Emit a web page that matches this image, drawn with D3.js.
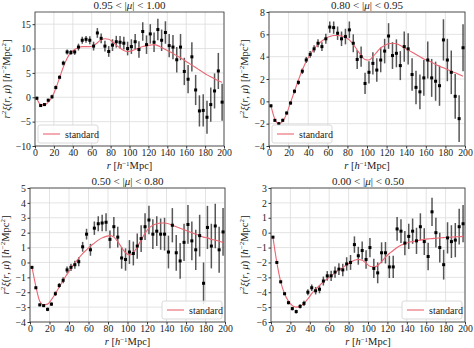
<!DOCTYPE html>
<html><head><meta charset="utf-8">
<script src="https://cdn.jsdelivr.net/npm/d3@7"></script>
<style>body{margin:0;background:#fff}svg{display:block}text{font-family:"Liberation Serif","DejaVu Serif",serif;fill:#222}</style>
</head><body><svg id="c" width="474" height="348"></svg>
<script>
const rValues = d3.range(2, 200, 4);
const titles = ["0.95 < |μ| < 1.00", "0.80 < |μ| < 0.95", "0.50 < |μ| < 0.80", "0.00 < |μ| < 0.50"];
const xTicks = [0,20,40,60,80,100,120,140,160,180,200];
const yTicks1 = [-10,-5,0,5,10,15];
const yTicks2 = [-4,-2,0,2,4,6,8];
const yTicks3 = [-4,-3,-2,-1,0,1,2,3,4,5];
const yTicks4 = [-6,-5,-4,-3,-2,-1,0,1,2,3];

const data1 = [-0.2,-1.7,-1.5,-0.6,0.1,2.0,4.1,7.0,9.3,9.2,9.3,10.3,11.7,11.9,11.7,10.5,13.2,12.1,10.5,9.4,10.7,11.4,11.3,11.1,10.0,10.4,11.4,9.8,13.5,10.8,13.0,11.3,13.9,11.7,13.3,10.6,10.3,7.7,10.3,5.3,3.7,8.3,1.5,-2.8,-2.7,-4.1,-1.5,1.3,5.4,-1.0];
const err1 = [0.3,0.3,0.3,0.3,0.4,0.4,0.4,0.5,0.5,0.5,0.6,0.7,0.7,0.7,0.8,0.9,1.0,1.0,1.1,1.1,1.2,1.2,1.3,1.3,1.4,1.5,1.6,1.7,1.9,1.9,2.0,2.0,2.2,2.2,2.3,2.4,2.5,2.6,2.7,2.8,2.9,3.0,3.1,3.2,3.3,3.4,3.5,3.6,3.7,3.8];
const model1 = [-0.3,-1.5,-1.6,-1.0,0.0,1.8,4.0,6.2,8.0,9.2,9.8,10.2,10.4,10.4,10.4,10.6,11.2,11.8,12.0,11.9,11.4,10.7,10.1,9.6,9.4,9.5,9.8,10.1,10.4,10.6,10.7,10.8,10.6,10.2,9.8,9.4,9.0,8.5,8.1,7.6,7.1,6.6,6.1,5.6,5.1,4.6,4.2,3.8,3.4,3.1];

const data2 = [-0.4,-1.7,-2.0,-1.7,-1.05,-0.15,0.9,1.7,2.7,3.7,4.2,4.7,5.2,4.9,5.6,6.65,6.6,6.1,5.6,5.8,6.4,5.2,3.75,4.0,1.6,2.6,3.4,2.8,3.7,4.5,5.85,4.1,4.3,3.2,4.9,4.7,2.4,1.25,0.85,2.1,3.7,2.1,1.8,1.4,5.5,3.7,2.6,0.45,-1.55,4.8];
const err2 = [0.12,0.12,0.12,0.15,0.15,0.17,0.2,0.22,0.25,0.27,0.3,0.32,0.35,0.4,0.45,0.5,0.55,0.6,0.65,0.7,0.75,0.8,0.85,0.9,0.95,1.0,1.0,1.05,1.1,1.1,1.15,1.2,1.25,1.3,1.35,1.4,1.45,1.5,1.55,1.6,1.65,1.7,1.75,1.8,1.85,1.9,1.95,2.0,2.1,2.1];
const model2 = [-0.4,-1.6,-2.0,-1.8,-1.1,-0.1,0.9,1.9,2.8,3.6,4.2,4.7,5.1,5.4,5.65,5.8,5.9,5.9,5.85,5.7,5.5,5.1,4.6,4.1,3.75,3.7,4.0,4.4,4.8,5.0,5.15,5.2,5.15,5.0,4.8,4.6,4.4,4.2,4.0,3.8,3.65,3.5,3.3,3.15,3.0,2.85,2.7,2.55,2.4,2.25];

const data3 = [-0.33,-1.7,-2.85,-2.9,-3.15,-2.8,-2.1,-1.55,-1.2,-0.5,-0.33,-0.15,0.05,1.05,1.9,0.85,2.3,2.6,2.65,2.7,1.55,2.4,1.7,0.3,0.2,0.7,0.6,1.1,1.6,2.4,2.85,1.9,2.1,1.9,1.9,0.7,2.5,0.65,0.1,1.35,2.55,1.45,0.85,1.8,-1.4,2.35,1.1,2.45,0.85,2.05];
const err3 = [0.08,0.08,0.1,0.1,0.12,0.12,0.15,0.17,0.2,0.22,0.25,0.27,0.3,0.33,0.36,0.4,0.45,0.5,0.55,0.6,0.6,0.65,0.7,0.72,0.75,0.8,0.8,0.85,0.9,0.9,0.95,1.0,1.0,1.05,1.1,1.1,1.15,1.2,1.2,1.25,1.3,1.3,1.35,1.4,1.4,1.45,1.5,1.5,1.55,1.6];
const model3 = [-0.3,-1.6,-2.6,-2.85,-2.8,-2.5,-2.1,-1.65,-1.2,-0.8,-0.4,-0.05,0.3,0.6,0.85,1.1,1.3,1.5,1.65,1.75,1.8,1.7,1.4,1.0,0.65,0.5,0.65,1.05,1.5,1.95,2.3,2.5,2.6,2.65,2.65,2.6,2.5,2.4,2.3,2.2,2.1,2.0,1.9,1.8,1.7,1.65,1.55,1.5,1.42,1.35];

const data4 = [-0.3,-2.0,-3.3,-4.1,-4.7,-5.1,-5.3,-4.95,-4.75,-4.0,-3.7,-3.9,-3.8,-3.25,-2.9,-2.9,-2.65,-2.45,-2.5,-2.1,-2.0,-0.8,-1.55,-1.2,-1.8,-1.0,-2.4,-2.7,-1.35,-1.35,-2.3,-2.3,0.25,0.1,-0.7,-0.25,0.1,-0.55,0.4,-0.6,-1.6,1.4,0.0,-1.0,-2.15,-0.35,-0.6,-0.5,0.4,0.6];
const err4 = [0.08,0.1,0.1,0.1,0.12,0.12,0.13,0.15,0.17,0.2,0.22,0.25,0.27,0.3,0.32,0.35,0.38,0.4,0.42,0.45,0.5,0.55,0.6,0.6,0.62,0.65,0.65,0.7,0.7,0.72,0.75,0.75,0.8,0.8,0.82,0.85,0.85,0.88,0.9,0.9,0.92,0.95,1.0,1.0,1.0,1.05,1.1,1.15,1.2,1.25];
const model4 = [-0.3,-2.0,-3.3,-4.1,-4.6,-4.9,-5.0,-4.95,-4.75,-4.45,-4.1,-3.8,-3.55,-3.3,-3.1,-2.9,-2.7,-2.5,-2.35,-2.15,-2.0,-1.85,-1.8,-1.85,-2.05,-2.25,-2.3,-2.2,-1.95,-1.65,-1.4,-1.2,-1.0,-0.85,-0.75,-0.65,-0.6,-0.55,-0.5,-0.45,-0.42,-0.4,-0.37,-0.35,-0.33,-0.31,-0.3,-0.28,-0.27,-0.25];

const panels = [
  {title:titles[0], data:data1, err:err1, model:model1, yDom:[-10,17.5], yTicks:yTicks1, box:[35,224,12,146], ylx:10, legend:"left"},
  {title:titles[1], data:data2, err:err2, model:model2, yDom:[-4,8], yTicks:yTicks2, box:[269,465,12,146], ylx:248, legend:"left"},
  {title:titles[2], data:data3, err:err3, model:model3, yDom:[-4,5], yTicks:yTicks3, box:[30,225,188,322], ylx:9, legend:"right"},
  {title:titles[3], data:data4, err:err4, model:model4, yDom:[-6,3], yTicks:yTicks4, box:[271,465,188,322], ylx:248, legend:"right"}
];

const svg = d3.select("#c");
const red = "#ea6672";

panels.forEach(p => {
  const [l, r, t, b] = p.box;
  const x = d3.scaleLinear().domain([0,200]).range([l, r]);
  const y = d3.scaleLinear().domain(p.yDom).range([b, t]);
  const g = svg.append("g");
  g.append("g").selectAll("line.gx").data(xTicks).join("line")
    .attr("x1", d=>x(d)).attr("x2", d=>x(d)).attr("y1", t).attr("y2", b)
    .attr("stroke", "#dcdcdc").attr("stroke-width", 0.8);
  g.append("g").selectAll("line.gy").data(p.yTicks).join("line")
    .attr("x1", l).attr("x2", r).attr("y1", d=>y(d)).attr("y2", d=>y(d))
    .attr("stroke", "#dcdcdc").attr("stroke-width", 0.8);
  const xa = g.append("g").attr("transform", `translate(0,${b})`)
    .call(d3.axisBottom(x).tickValues(xTicks).tickSize(2.5).tickPadding(1).tickFormat(d3.format("d")));
  const ya = g.append("g").attr("transform", `translate(${l},0)`)
    .call(d3.axisLeft(y).tickValues(p.yTicks).tickSize(2.5).tickPadding(1.5).tickFormat(d => d < 0 ? "−" + Math.abs(d) : d));
  [xa, ya].forEach(a => {
    a.select(".domain").remove();
    a.selectAll("line").attr("stroke", "#333");
    a.selectAll("text").attr("font-size", 9.8).attr("font-family", '"Liberation Serif", serif').attr("fill", "#222");
  });
  g.append("rect").attr("x", l).attr("y", t).attr("width", r-l).attr("height", b-t)
    .attr("fill", "none").attr("stroke", "#333").attr("stroke-width", 0.8);
  const cid = "clip" + l + t;
  svg.append("clipPath").attr("id", cid).append("rect").attr("x", l).attr("y", t).attr("width", r-l).attr("height", b-t);
  const pg = g.append("g").attr("clip-path", `url(#${cid})`);
  pg.selectAll("line.eb").data(rValues).join("line")
    .attr("x1", d=>x(d)).attr("x2", d=>x(d))
    .attr("y1", (d,i)=>y(p.data[i]-p.err[i])).attr("y2", (d,i)=>y(p.data[i]+p.err[i]))
    .attr("stroke", "#3a3a3a").attr("stroke-width", 1.5).attr("opacity", 0.85);
  pg.append("path").datum(rValues)
    .attr("d", d3.line().x(d=>x(d)).y((d,i)=>y(p.model[i])).curve(d3.curveMonotoneX))
    .attr("fill", "none").attr("stroke", red).attr("stroke-width", 1.1);
  pg.selectAll("rect.pt").data(rValues).join("rect")
    .attr("x", d=>x(d)-1.5).attr("y", (d,i)=>y(p.data[i])-1.5).attr("width", 3).attr("height", 3)
    .attr("fill", "#000");
  const title = g.append("text").attr("x", (l+r)/2).attr("y", t-3).attr("text-anchor", "middle").attr("font-size", 11);
  const parts = p.title.split("μ");
  title.append("tspan").text(parts[0]);
  title.append("tspan").attr("font-style", "italic").text("μ");
  title.append("tspan").text(parts[1]);
  const xl = g.append("text").attr("x", (l+r)/2).attr("y", b+23).attr("text-anchor", "middle").attr("font-size", 10.5);
  xl.append("tspan").attr("font-style", "italic").text("r");
  xl.append("tspan").text(" [");
  xl.append("tspan").attr("font-style", "italic").text("h");
  xl.append("tspan").attr("font-size", 7).attr("dy", -3.5).text("−1");
  xl.append("tspan").attr("dy", 3.5).text("Mpc]");
  const yl = g.append("text").attr("transform", `translate(${p.ylx},${(t+b)/2}) rotate(-90)`)
    .attr("text-anchor", "middle").attr("font-size", 10.5);
  yl.append("tspan").attr("font-style", "italic").text("r");
  yl.append("tspan").attr("font-size", 7).attr("dy", -4).text("2");
  yl.append("tspan").attr("dy", 4).attr("font-style", "italic").text("ξ");
  yl.append("tspan").text("(");
  yl.append("tspan").attr("font-style", "italic").text("r");
  yl.append("tspan").text(", ");
  yl.append("tspan").attr("font-style", "italic").text("μ");
  yl.append("tspan").text(") [");
  yl.append("tspan").attr("font-style", "italic").text("h");
  yl.append("tspan").attr("font-size", 7).attr("dy", -4).text("−2");
  yl.append("tspan").attr("dy", 4).text("Mpc");
  yl.append("tspan").attr("font-size", 7).attr("dy", -4).text("2");
  yl.append("tspan").attr("dy", 4).text("]");
  const lw = 60, lh = 18;
  const lx = p.legend === "left" ? l + 3 : r - lw - 3;
  const ly = b - lh - 3;
  const lg = g.append("g");
  lg.append("rect").attr("x", lx).attr("y", ly).attr("width", lw).attr("height", lh).attr("rx", 2)
    .attr("fill", "#fff").attr("fill-opacity", 0.85).attr("stroke", "#d0d0d0").attr("stroke-width", 0.8);
  lg.append("line").attr("x1", lx+5).attr("x2", lx+22).attr("y1", ly+lh/2).attr("y2", ly+lh/2)
    .attr("stroke", red).attr("stroke-width", 1.1);
  lg.append("text").attr("x", lx+27).attr("y", ly+lh/2+3.5).attr("font-size", 10).text("standard");
});
</script></body></html>
